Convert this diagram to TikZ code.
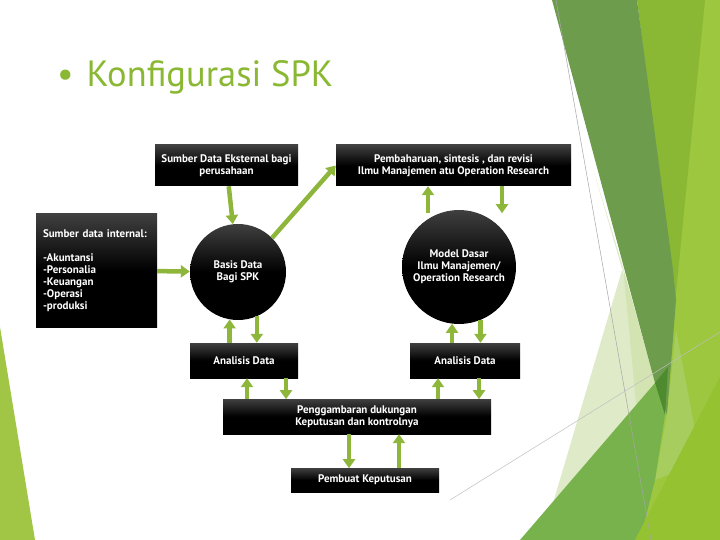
\documentclass[tikz,border=0pt]{standalone}
\usepackage{fontspec}
\setmainfont{PT Sans}
\usetikzlibrary{arrows.meta}
\definecolor{spkgreen}{RGB}{138,184,51}
\definecolor{arrgreen}{RGB}{141,182,58}
\definecolor{leftgreen}{RGB}{161,197,69}
\definecolor{darkband}{RGB}{108,156,76}
\definecolor{brightband}{RGB}{138,184,52}
\definecolor{lightband}{RGB}{156,199,62}
\definecolor{paleband}{RGB}{223,235,200}
\definecolor{paleband2}{RGB}{211,228,178}
\definecolor{midband}{RGB}{120,178,76}
\definecolor{tipband}{RGB}{78,138,46}
\definecolor{softband}{RGB}{166,205,94}
\definecolor{yellowband}{RGB}{148,194,48}
\tikzset{
  box/.style={top color=black!75,bottom color=black,middle color=black,text=white,
    font=\bfseries\fontsize{11}{12}\selectfont,align=center,inner sep=2pt},
  disc/.style={box,circle},
  arr/.style={draw=arrgreen,line width=4.5pt,-{Triangle[width=12pt,length=9pt]}},
  title/.style={text=spkgreen,font=\fontsize{36.5}{42}\selectfont,inner sep=0pt}
}
\begin{document}
\begin{tikzpicture}[x=1pt,y=-1pt]
    \useasboundingbox (0,0) rectangle (720,540);
    \fill[white] (0,0) rectangle (720,540);
    % facet background
    \fill[leftgreen] (0,327) -- (35,540) -- (0,540) -- cycle;
    \fill[lightband] (700,0) -- (720,0) -- (720,540) -- (630,540) -- (670,300) -- cycle;
    \fill[brightband] (637,0) -- (705,0) -- (675,303) -- cycle;
    \fill[paleband] (594,172) -- (623,267) -- (545,530) -- (655,383) -- cycle;
    \fill[paleband2] (623,267) -- (657,390) -- (637,413) -- cycle;
    \fill[darkband] (552,0) -- (637,0) -- (673,270) -- (676,300) -- (667,415) -- (655,383) -- cycle;
    \fill[softband] (667,415) -- (676,330) -- (698,445) -- (680,470) -- (655,480) -- cycle;
    \fill[midband] (520,540) -- (655,383) -- (665,415) -- (655,480) -- (640,540) -- cycle;
    \fill[tipband] (655,383) -- (668,367) -- (665,415) -- cycle;
    \fill[yellowband] (635,540) -- (720,377) -- (720,540) -- cycle;
    \draw[gray!70,line width=0.5pt] (556,0) -- (651,540);
    \draw[gray!50,line width=0.5pt] (450,500) -- (720,332);
    % title
    \node[title,anchor=base west] (ttl) at (57,87) {\textbullet\hspace{13pt}Konfigurasi SPK};
    % boxes
    \node[box,minimum width=143pt,minimum height=41pt] (ext) at (226.5,165.5) {Sumber Data Eksternal bagi\\perusahaan};
    \node[box,minimum width=235pt,minimum height=41pt] (pem) at (453.5,165.5) {Pembaharuan, sintesis , dan revisi\\Ilmu Manajemen atu Operation Research};
    \node[box,minimum width=121pt,minimum height=113pt,text width=107pt,align=left] (int) at (96.5,270.5) {Sumber data internal:\\[12pt]-Akuntansi\\-Personalia\\-Keuangan\\-Operasi\\-produksi};
    \node[disc,minimum size=96pt] (bdb) at (238,272) {Basis Data\\Bagi SPK};
    \node[disc,minimum size=114pt] (mdl) at (459,267) {Model Dasar\\Ilmu Manajemen/\\Operation Research};
    \node[box,minimum width=108pt,minimum height=35pt] (ana1) at (244,360.5) {Analisis Data};
    \node[box,minimum width=110pt,minimum height=35pt] (ana2) at (465,360.5) {Analisis Data};
    \node[box,minimum width=268pt,minimum height=35pt] (pgb) at (357,416.5) {Penggambaran dukungan\\Keputusan dan kontrolnya};
    \node[box,minimum width=148pt,minimum height=24pt] (pbk) at (365,480) {Pembuat Keputusan};
    % arrows
    \draw[arr] (ext) -- (bdb);
    \draw[arr] (bdb.45) -- (pem.west);
    \draw[arr] (int) -- (bdb);
    \draw[arr] ([xshift=-25.5pt,yshift=-27pt]pem.south) -- ([xshift=-25.5pt]pem.south);
    \draw[arr] ([xshift=48.5pt]pem.south) -- ([xshift=48.5pt,yshift=-27pt]pem.south);
    \draw[arr] (ana1.north -| bdb.-100) -- (bdb.-100);
    \draw[arr] (bdb.-67) -- (bdb.-67 |- ana1.north);
    \draw[arr] (ana2.north -| mdl.-97) -- (mdl.-97);
    \draw[arr] (mdl.-68) -- (mdl.-68 |- ana2.north);
    \draw[arr] ([xshift=3pt,yshift=-21pt]ana1.south) -- ([xshift=3pt]ana1.south);
    \draw[arr] ([xshift=42pt]ana1.south) -- ([xshift=42pt,yshift=-21pt]ana1.south);
    \draw[arr] ([xshift=-27pt,yshift=-21pt]ana2.south) -- ([xshift=-27pt]ana2.south);
    \draw[arr] ([xshift=14pt]ana2.south) -- ([xshift=14pt,yshift=-21pt]ana2.south);
    \draw[arr] ([xshift=-8pt]pgb.south) -- ([xshift=-8pt,yshift=-34pt]pgb.south);
    \draw[arr] ([xshift=42pt,yshift=-34pt]pgb.south) -- ([xshift=42pt]pgb.south);
\end{tikzpicture}
\end{document}
